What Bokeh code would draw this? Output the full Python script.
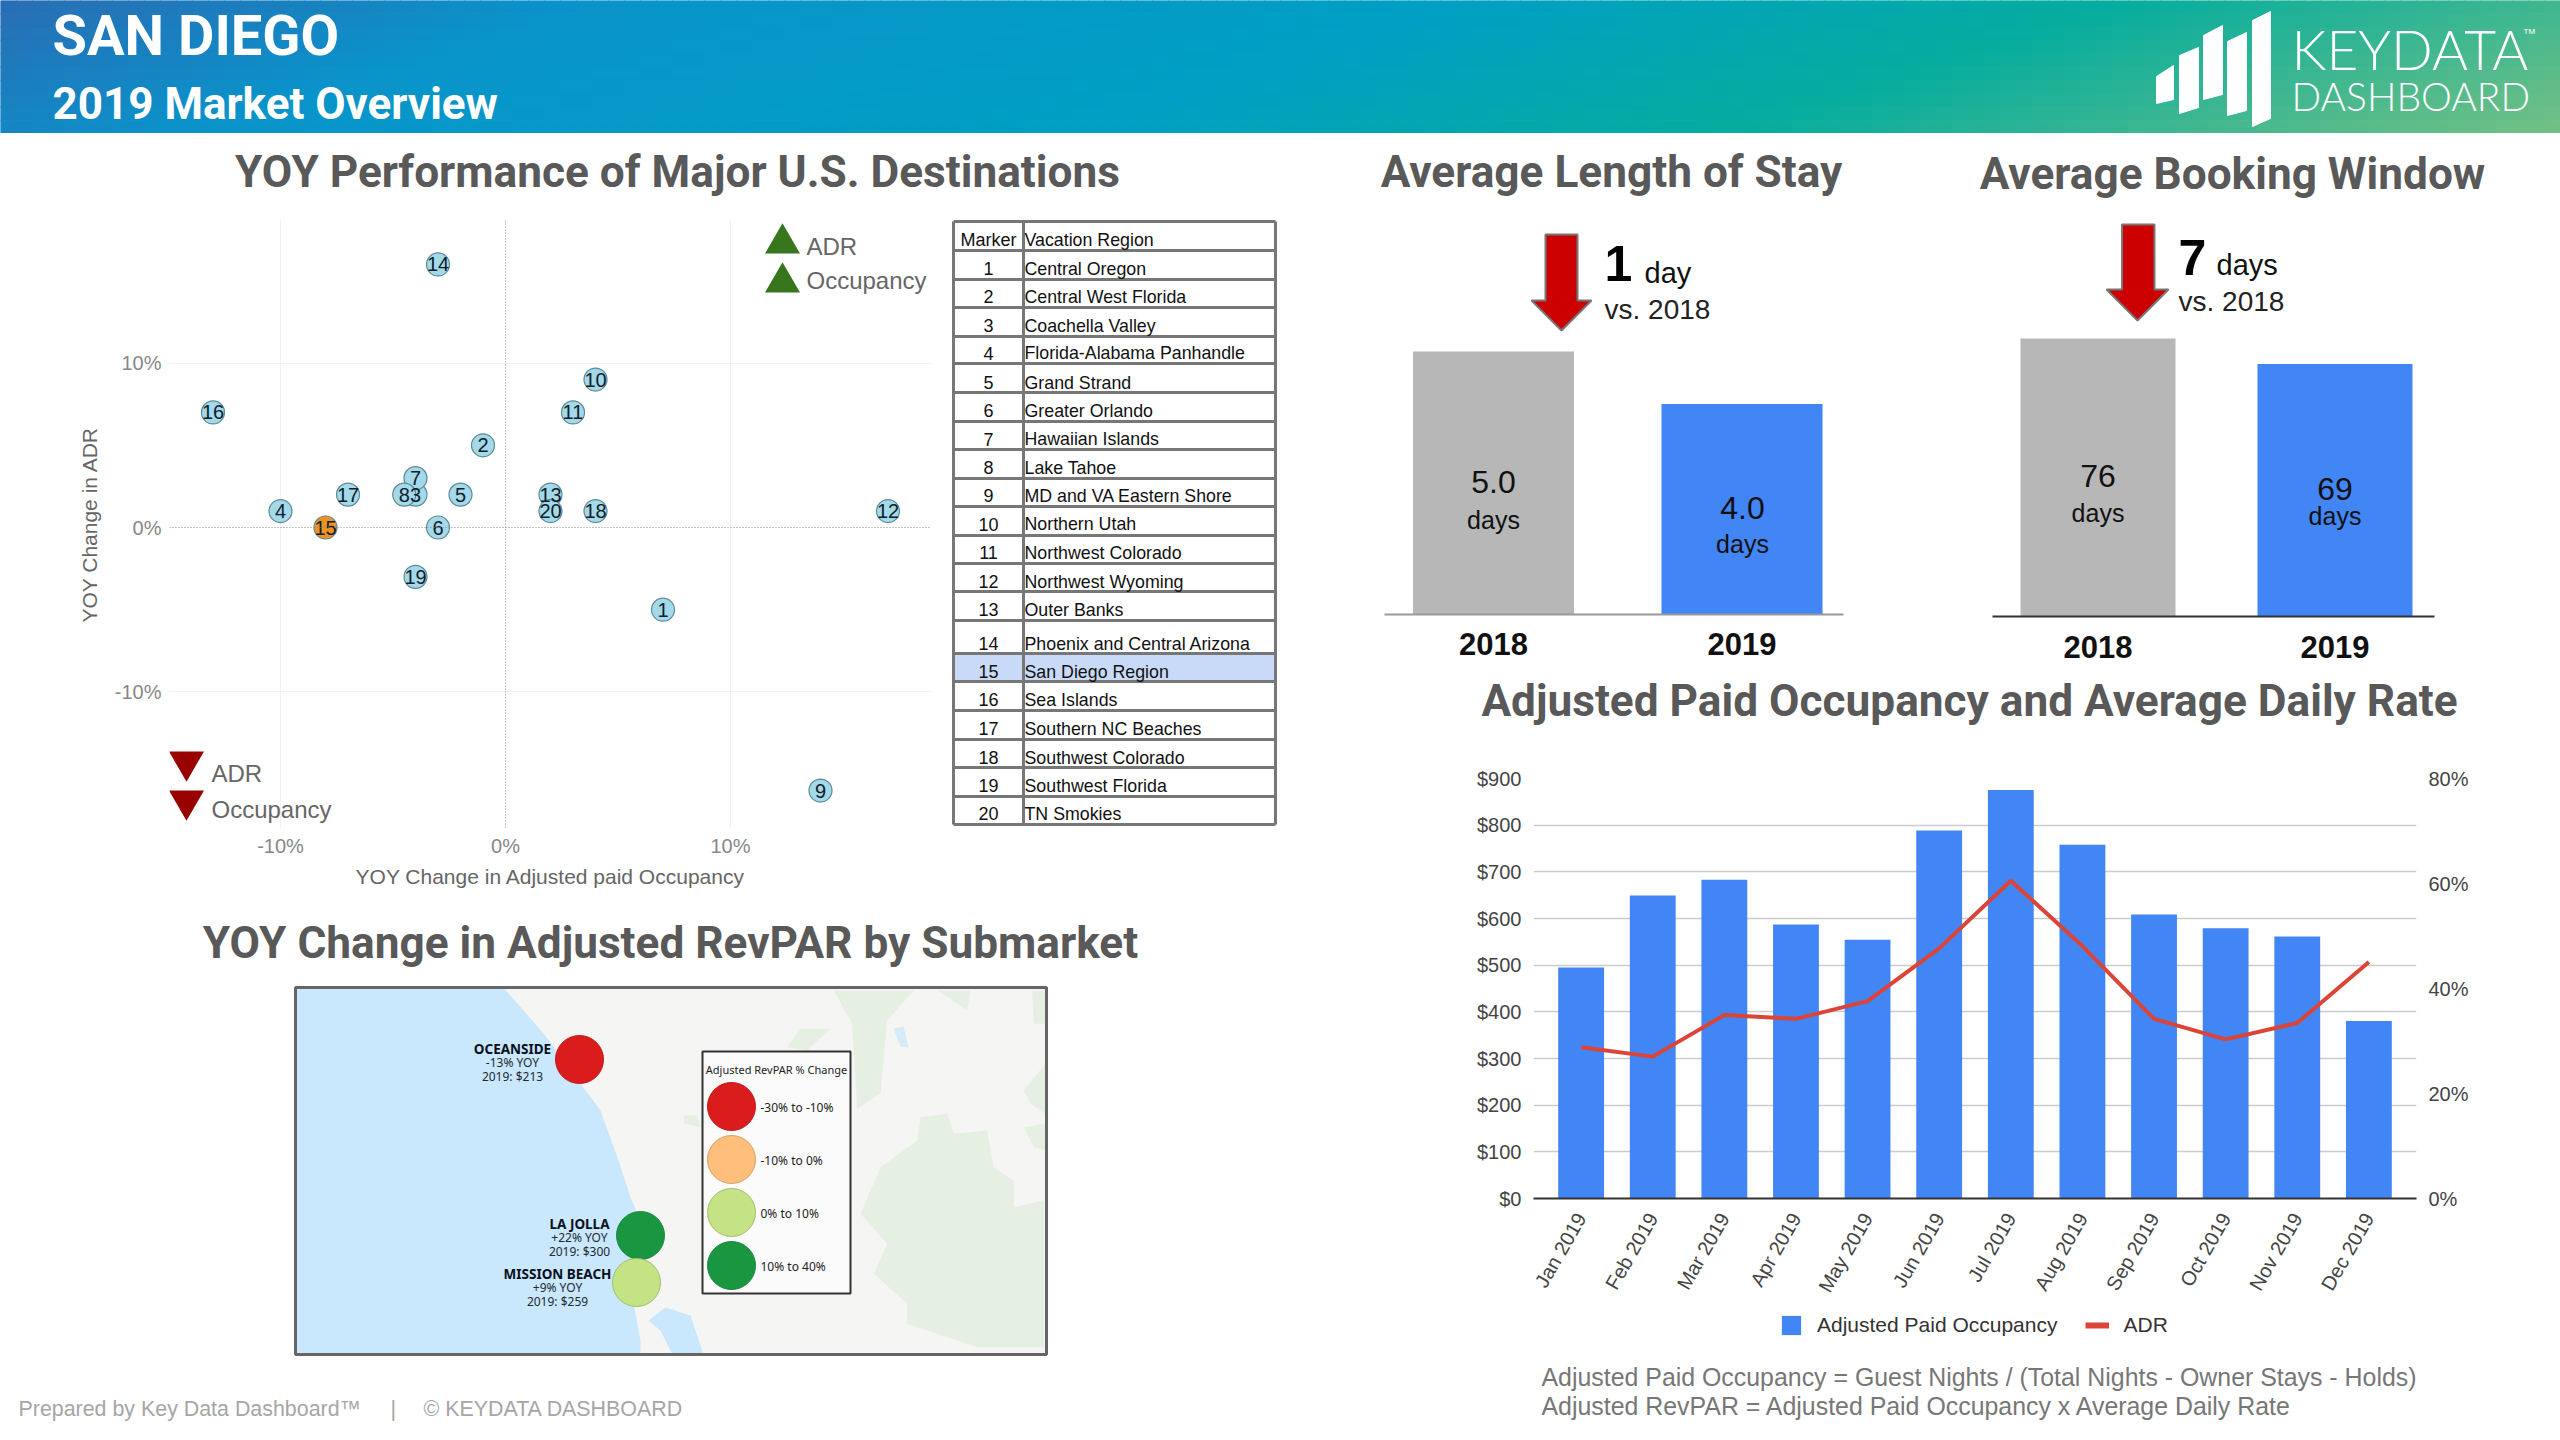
import numpy as np
from bokeh.plotting import figure
from bokeh.layouts import column, row
from bokeh.models import (Range1d, FixedTicker, PrintfTickFormatter, LinearAxis, FactorRange,
                          Span, Legend, LegendItem)
from bokeh.core.properties import value
from bokeh.embed import file_html
from bokeh.resources import INLINE

# ---------- data ----------
marker_ids = list(range(1, 21))
regions = ["Central Oregon", "Central West Florida", "Coachella Valley", "Florida-Alabama Panhandle",
           "Grand Strand", "Greater Orlando", "Hawaiian Islands", "Lake Tahoe", "MD and VA Eastern Shore",
           "Northern Utah", "Northwest Colorado", "Northwest Wyoming", "Outer Banks",
           "Phoenix and Central Arizona", "San Diego Region", "Sea Islands", "Southern NC Beaches",
           "Southwest Colorado", "Southwest Florida", "TN Smokies"]
occ_change = [7, -1, -4, -10, -2, -3, -4, -4.5, 14, 4, 3, 17, 2, -3, -8, -13, -7, 4, -4, 2]
adr_change = [-5, 5, 2, 1, 2, 0, 3, 2, -16, 9, 7, 1, 2, 16, 0, 7, 2, 1, -3, 1]

years = [2018, 2019]
length_of_stay = [5.0, 4.0]
booking_window = [76, 69]

months = ["Jan 2019", "Feb 2019", "Mar 2019", "Apr 2019", "May 2019", "Jun 2019",
          "Jul 2019", "Aug 2019", "Sep 2019", "Oct 2019", "Nov 2019", "Dec 2019"]
occupancy = [44.0, 57.7, 60.7, 52.2, 49.3, 70.1, 77.8, 67.4, 54.1, 51.5, 49.9, 33.8]
adr = [324, 304, 393, 385, 423, 536, 681, 541, 385, 341, 376, 507]

submarkets = ["OCEANSIDE", "LA JOLLA", "MISSION BEACH"]
submarket_yoy = ["-13% YOY", "+22% YOY", "+9% YOY"]
submarket_2019 = ["2019: $213", "2019: $300", "2019: $259"]
legend_bands = ["-30% to -10%", "-10% to 0%", "0% to 10%", "10% to 40%"]

# ---------- styling ----------
HEAD = "Roboto"
ARIAL = "Liberation Sans"
LIGHT = "Lato Light, Lato"
HEAD_GREY = "#595959"
RED, ORANGE, LIME, GREEN = "#da1c1c", "#fdbf7b", "#c4e385", "#1a9641"
TITLE_PX = 44.2


def canvas(x0, y0, x1, y1):
    """A bare figure whose data coordinates equal page pixels."""
    p = figure(width=x1 - x0, height=y1 - y0, x_range=Range1d(x0, x1), y_range=Range1d(y1, y0),
               x_axis_location=None, y_axis_location=None, tools="", toolbar_location=None,
               output_backend="svg", min_border=0, outline_line_color=None, background_fill_color="white",
               border_fill_color="white", frame_align=False)
    p.grid.visible = False
    return p


def put(p, x, y, s, size, color="#000000", font=ARIAL, style="normal", align="left", base="middle", angle=0):
    p.text(x=[x], y=[y], text=[s], text_font=value(font), text_font_size=f"{size}px", text_color=color,
           text_font_style=style, text_align=align, text_baseline=base, angle=angle)


# ---------- header ----------
hdr = canvas(0, 0, 2560, 133)
cw, ch = 16, 133 / 10
gx, gy = np.meshgrid(np.arange(0, 2560, cw), np.arange(10) * ch)
t = ((gx + cw / 2) + 3 * (gy + ch / 2)) / (2560 + 3 * 133)
stops = [0, .2, .5, .72, 1]
cols = np.array([[0x2a, 0x6d, 0xb5], [0x0a, 0x94, 0xcb], [0x00, 0xa0, 0xc4], [0x06, 0xad, 0x9f], [0x74, 0xc1, 0x84]])
rgb = np.stack([np.interp(t, stops, cols[:, i]) for i in range(3)], axis=-1).astype(int)
hexes = ["#%02x%02x%02x" % tuple(c) for c in rgb.reshape(-1, 3)]
hdr.quad(left=gx.ravel(), right=gx.ravel() + cw, top=gy.ravel(), bottom=gy.ravel() + ch,
         fill_color=hexes, line_color=hexes, line_width=1)
put(hdr, 52, 35, "SAN DIEGO", 56, "white", HEAD, "bold")
put(hdr, 52, 103, "2019 Market Overview", 44, "white", HEAD, "bold")
logo_x = [(2156, 2173), (2179, 2198), (2203, 2222), (2227, 2246), (2252, 2270)]
logo_t = [(76, 65), (55, 47), (35, 25), (41, 32), (20, 11)]
logo_b = [(103, 99), (113, 107), (99, 94), (115, 110), (126, 118)]
hdr.patches(xs=[[a, b, b, a] for a, b in logo_x],
            ys=[[t0, t1, b1, b0] for (t0, t1), (b0, b1) in zip(logo_t, logo_b)],
            fill_color="white", line_color="white", line_width=1, line_join="round")
put(hdr, 2291, 48, "KEYDATA", 55, "white", LIGHT)
put(hdr, 2291, 95, "DASHBOARD", 39, "white", LIGHT)
put(hdr, 2523, 31, "TM", 8, "white", ARIAL)

# ---------- scatter ----------
title_left = canvas(0, 133, 1300, 215)
put(title_left, 677, 171, "YOY Performance of Major U.S. Destinations", TITLE_PX, HEAD_GREY, HEAD, "bold", "center")

XPX, X0 = 22.5, 505.0
YPX, Y0 = 16.44, 527.0
sc = figure(width=945, height=685, x_range=Range1d((169 - X0) / XPX, (931 - X0) / XPX),
            y_range=Range1d((Y0 - 828) / YPX, (Y0 - 220) / YPX),
            tools="", toolbar_location=None, output_backend="svg", outline_line_color=None, frame_align=False,
            min_border_left=169, min_border_right=14, min_border_top=5, min_border_bottom=72)
ticks = [-10, 0, 10]
for ax, lbl in ((sc.xaxis, "YOY Change in Adjusted paid Occupancy"), (sc.yaxis, "YOY Change in ADR")):
    ax.ticker = FixedTicker(ticks=ticks)
    ax.formatter = PrintfTickFormatter(format="%d%%")
    ax.axis_line_color = None
    ax.major_tick_line_color = None
    ax.minor_tick_line_color = None
    ax.major_label_text_color = "#888888"
    ax.major_label_text_font = ARIAL
    ax.major_label_text_font_size = "20px"
    ax.major_label_standoff = 0
    ax.axis_label = lbl
    ax.axis_label_text_color = "#666666"
    ax.axis_label_text_font = ARIAL
    ax.axis_label_text_font_style = "normal"
    ax.axis_label_text_font_size = "21px"
    ax.axis_label_standoff = 5
sc.yaxis.major_label_standoff = 2
sc.yaxis.axis_label_standoff = 11
sc.xgrid.ticker = FixedTicker(ticks=[-15, -10, 10])
sc.ygrid.ticker = FixedTicker(ticks=[-10, 10])
sc.xgrid.grid_line_color = "#f1f1f1"
sc.ygrid.grid_line_color = "#f1f1f1"
sc.add_layout(Span(location=0, dimension="height", line_color="#888888", line_dash="1 2", line_width=1))
sc.add_layout(Span(location=0, dimension="width", line_color="#888888", line_dash="1 2", line_width=1))
fills = ["#ee9322" if r == "San Diego Region" else "#a3d9e8" for r in regions]
sc.scatter(occ_change, adr_change, size=23, fill_color=fills, line_color="#5d8a96", line_width=1.2)
sc.text(occ_change, adr_change, text=[str(i) for i in marker_ids], text_font=value(ARIAL),
        text_font_size="20px", text_align="center", text_baseline="middle", text_color="#10202a")


def dx(px):
    return (px - X0) / XPX


def dy(px):
    return (Y0 - px) / YPX


sc.scatter([dx(782)] * 2, [dy(243), dy(282)], marker="triangle", size=35, fill_color="#38761d", line_color=None)
sc.scatter([dx(186)] * 2, [dy(761), dy(800)], marker="inverted_triangle", size=35, fill_color="#990000", line_color=None)
for px_x, px_y, s in ((806, 246, "ADR"), (806, 280, "Occupancy"), (211, 773, "ADR"), (211, 809, "Occupancy")):
    put(sc, dx(px_x), dy(px_y), s, 24, "#666666")

# ---------- table ----------
tb = canvas(945, 215, 1300, 900)
row_lines = [221, 250, 279, 307, 336, 363, 392, 421, 449, 478, 506, 535, 563, 591, 620, 653, 681, 710, 739, 767, 796, 824]
text_y = [239, 268, 296, 325, 352.5, 382, 410, 438.6, 467, 495, 523.5, 552, 581, 609, 643, 671, 699, 728, 757, 785, 813]
hi = regions.index("San Diego Region") + 1
tb.quad(left=953, right=1275, top=row_lines[hi], bottom=row_lines[hi + 1], fill_color="#c9daf8", line_color=None)
tb.segment(x0=[953] * len(row_lines), x1=[1275] * len(row_lines), y0=row_lines, y1=row_lines,
           line_color="#777777", line_width=3)
tb.segment(x0=[953, 1023, 1275], x1=[953, 1023, 1275], y0=[221] * 3, y1=[824] * 3, line_color="#777777", line_width=3)
put(tb, 988, text_y[0], "Marker", 18, "#111111", align="center")
put(tb, 1024, text_y[0], "Vacation Region", 17.8, "#111111")
tb.text(x=[988] * 20, y=text_y[1:], text=[str(i) for i in marker_ids], text_font=value(ARIAL), text_font_size="18px",
        text_align="center", text_baseline="middle", text_color="#111111")
tb.text(x=[1024] * 20, y=text_y[1:], text=regions, text_font=value(ARIAL), text_font_size="17.8px",
        text_align="left", text_baseline="middle", text_color="#111111")

# ---------- map ----------
mp = canvas(0, 900, 1300, 1440)
put(mp, 670, 942, "YOY Change in Adjusted RevPAR by Submarket", TITLE_PX, HEAD_GREY, HEAD, "bold", "center")
mp.quad(left=295, right=1046, top=987, bottom=1354, fill_color="#f5f5f3", line_color=None)
green_crops = [
    [(600, 700), (660, 560), (770, 480), (780, 410), (860, 400), (880, 460), (980, 450), (1000, 560), (1060, 600),
     (1060, 680), (1150, 660), (1150, 1100), (950, 1100), (740, 1030), (740, 970), (640, 880), (680, 790)],
    [(520, 30), (760, 30), (680, 120), (660, 340), (590, 385), (575, 130)],
    [(830, 30), (930, 30), (920, 90)],
    [(1115, 30), (1155, 30), (1155, 130), (1120, 130)],
    [(1090, 330), (1155, 250), (1155, 400), (1110, 370)],
    [(1090, 440), (1155, 430), (1155, 510), (1120, 500)],
    [(380, 200), (420, 145), (510, 145), (440, 210)],
    [(70, 405), (110, 405), (120, 440), (70, 430)],
]
mp.patches(xs=[[660 + a / 3 for a, _ in g] for g in green_crops], ys=[[980 + b / 3 for _, b in g] for g in green_crops],
           fill_color="#e6f0e2", line_color=None)
sea_x = [295, 503, 543, 580, 600, 617, 630, 637, 632, 630, 635, 640, 640, 295]
sea_y = [987, 987, 1033, 1083, 1110, 1157, 1197, 1213, 1260, 1290, 1313, 1340, 1354, 1354]
mp.patch(sea_x, sea_y, fill_color="#c9e7fd", line_color=None)
mp.patch([648, 665, 690, 703, 672, 660], [1320, 1307, 1315, 1354, 1354, 1330], fill_color="#c9e7fd", line_color=None)
mp.patch([893, 903, 908, 900], [1028, 1026, 1047, 1046], fill_color="#d5ebf7", line_color=None)
mp.quad(left=295, right=1046, top=987, bottom=1354, fill_color=None, line_color="#666666", line_width=3)
mp.quad(left=702, right=850, top=1051, bottom=1293, fill_color="#fbfbfb", line_color="#333333", line_width=2)
mp.scatter([579, 640, 636], [1059, 1235, 1282], size=48, fill_color=[RED, GREEN, LIME],
           line_color=["#c41818", "#178a3b", "#a3bd6e"], line_width=1)
mp.scatter([731] * 4, [1106, 1159, 1212, 1265], size=48, fill_color=[RED, ORANGE, LIME, GREEN],
           line_color=["#c41818", "#d9a060", "#a3bd6e", "#178a3b"], line_width=1)
for name, yoy, val, cx, cy in zip(submarkets, submarket_yoy, submarket_2019, [512, 579, 557], [1048, 1223, 1273]):
    put(mp, cx, cy, name, 13.5, "#0a0f1c", "Noto Sans", "bold", "center")
    put(mp, cx, cy + 14, yoy, 12, "#222a33", "Noto Sans", align="center")
    put(mp, cx, cy + 28, val, 12, "#222a33", "Noto Sans", align="center")
put(mp, 776, 1069, "Adjusted RevPAR % Change", 11, "#222222", "Noto Sans", align="center")
for band, cy in zip(legend_bands, [1106, 1159, 1212, 1265]):
    put(mp, 760, cy + 1, band, 12, "#222222", "Noto Sans")
put(mp, 18, 1408, "Prepared by Key Data Dashboard\u2122", 21.4, "#a6a6a6")
put(mp, 390, 1408, "|", 21.4, "#a6a6a6")
put(mp, 423, 1408, "\u00a9 KEYDATA DASHBOARD", 21.4, "#a6a6a6")


# ---------- small bar charts ----------
def bar_chart(w, h, xr, yr, vals, bw, borders, axis_color, standoff):
    left, right, top, bottom = borders
    p = figure(width=w, height=h, x_range=Range1d(*xr), y_range=Range1d(*yr), tools="", toolbar_location=None,
               output_backend="svg", outline_line_color=None, y_axis_location=None, frame_align=False,
               min_border_left=left, min_border_right=right, min_border_top=top, min_border_bottom=bottom)
    p.grid.visible = False
    p.vbar(x=years, top=vals, width=bw, bottom=0, fill_color=["#b7b7b7", "#4285f4"], line_color=None)
    ax = p.xaxis[0]
    ax.ticker = FixedTicker(ticks=years)
    ax.formatter = PrintfTickFormatter(format="%d")
    ax.axis_line_color = axis_color
    ax.axis_line_width = 2
    ax.major_tick_line_color = None
    ax.minor_tick_line_color = None
    ax.major_label_text_font = ARIAL
    ax.major_label_text_font_style = "bold"
    ax.major_label_text_font_size = "31px"
    ax.major_label_text_color = "#111111"
    ax.major_label_standoff = standoff
    return p


def mapper(x0, base_px, xscale, yscale):
    return (lambda px: 2018 + (px - x0) / xscale), (lambda py: (base_px - py) / yscale)


# length of stay
ttl = canvas(1300, 133, 2560, 214)
put(ttl, 1611, 171, "Average Length of Stay", TITLE_PX, HEAD_GREY, HEAD, "bold", "center")
put(ttl, 2232, 173, "Average Booking Window", TITLE_PX, HEAD_GREY, HEAD, "bold", "center")

sp1 = 248.5
yv1 = 52.6
los = bar_chart(630, 458, (2018 + (1384 - 1493) / sp1, 2018 + (1843 - 1493) / sp1), (0, (614 - 214) / yv1),
                length_of_stay, 0.648, (84, 87, 0, 58), "#999999", 12)
fx, fy = mapper(1493, 614, sp1, yv1)
for px, py, s, size in ((1493, 481, f"{length_of_stay[0]:.1f}", 32), (1493, 519, "days", 25),
                        (1742, 507, f"{length_of_stay[1]:.1f}", 32), (1742, 543, "days", 25)):
    put(los, fx(px), fy(py), s, size, "#111111", align="center")
los.patch([fx(v) for v in (1545, 1577, 1577, 1591, 1561, 1531, 1545)],
          [fy(v) for v in (234, 234, 300, 300, 330, 300, 300)],
          fill_color="#cc0000", line_color="#777777", line_width=2)
put(los, fx(1604), fy(263), "1", 50, "#000000", style="bold")
put(los, fx(1644), fy(272), "day", 29, "#111111")
put(los, fx(1604), fy(309), "vs. 2018", 28, "#222222")

# booking window
sp2 = 237
yv2 = 278 / 76
bkg = bar_chart(630, 458, (2018 + (1992 - 2097.5) / sp2, 2018 + (2434 - 2097.5) / sp2), (0, (616 - 214) / yv2),
                booking_window, 0.654, (62, 126, 0, 56), "#333333", 13)
fx, fy = mapper(2097.5, 616, sp2, yv2)
for px, py, s, size in ((2097.5, 475, str(booking_window[0]), 32), (2097.5, 512, "days", 25),
                        (2334.5, 488, str(booking_window[1]), 32), (2334.5, 515, "days", 25)):
    put(bkg, fx(px), fy(py), s, size, "#111111", align="center")
bkg.patch([fx(v) for v in (2121.5, 2154, 2154, 2168, 2137, 2106, 2121.5)],
          [fy(v) for v in (224, 224, 289, 289, 320, 289, 289)],
          fill_color="#cc0000", line_color="#777777", line_width=2)
put(bkg, fx(2178), fy(257), "7", 50, "#000000", style="bold")
put(bkg, fx(2216), fy(264), "days", 29, "#111111")
put(bkg, fx(2178), fy(301), "vs. 2018", 28, "#222222")

# ---------- combo chart ----------
ttl2 = canvas(1300, 672, 2560, 740)
put(ttl2, 1969, 700, "Adjusted Paid Occupancy and Average Daily Rate", TITLE_PX, HEAD_GREY, HEAD, "bold", "center")

cb = figure(width=1260, height=570, x_range=FactorRange(factors=months, range_padding=0.0275),
            y_range=Range1d(0, 900), tools="", toolbar_location=None, output_backend="svg", frame_align=False,
            outline_line_color=None, min_border_left=233, min_border_right=144, min_border_top=38,
            min_border_bottom=112)
cb.extra_y_ranges = {"occ": Range1d(0, 80)}
r_ax = LinearAxis(y_range_name="occ", ticker=FixedTicker(ticks=[0, 20, 40, 60, 80]),
                  formatter=PrintfTickFormatter(format="%d%%"))
cb.add_layout(r_ax, "right")
cb.yaxis[0].ticker = FixedTicker(ticks=list(range(0, 901, 100)))
cb.yaxis[0].formatter = PrintfTickFormatter(format="$%d")
for ax in (cb.yaxis[0], r_ax):
    ax.axis_line_color = None
    ax.major_tick_line_color = None
    ax.minor_tick_line_color = None
    ax.major_label_text_font = ARIAL
    ax.major_label_text_font_size = "20px"
    ax.major_label_text_color = "#444444"
cb.yaxis[0].major_label_standoff = 6
r_ax.major_label_standoff = 6
xa = cb.xaxis[0]
xa.axis_line_color = "#333333"
xa.axis_line_width = 2
xa.major_tick_line_color = None
xa.minor_tick_line_color = None
xa.major_label_orientation = np.pi / 3
xa.major_label_text_font = ARIAL
xa.major_label_text_font_size = "20px"
xa.major_label_text_color = "#444444"
xa.major_label_standoff = 10
cb.xgrid.visible = False
cb.ygrid.grid_line_color = "#cccccc"
cb.ygrid.grid_line_width = 1.5
cb.vbar(x=months, top=occupancy, width=0.64, y_range_name="occ", fill_color="#4285f4", line_color=None)
cb.line(x=months, y=adr, line_color="#db4437", line_width=4)

notes = canvas(1300, 1310, 2560, 1440)
# the key's samples lie off this canvas: only their legend swatches show
key_bar = notes.quad(left=[0], right=[1], top=[0], bottom=[1], fill_color="#4285f4", line_color=None)
key_line = notes.line(x=[0, 1], y=[0, 0], line_color="#db4437", line_width=6)
lg = Legend(items=[LegendItem(label="Adjusted Paid Occupancy", renderers=[key_bar]),
                   LegendItem(label="ADR", renderers=[key_line])],
            orientation="horizontal", location=(479, 103), background_fill_alpha=0, border_line_color=None,
            label_text_font=ARIAL, label_text_font_size="21px", label_text_color="#333333",
            glyph_width=24, glyph_height=24, label_standoff=14, spacing=28, margin=0, padding=0)
notes.add_layout(lg, "center")
put(notes, 1541, 1376, "Adjusted Paid Occupancy = Guest Nights / (Total Nights - Owner Stays - Holds)", 24.9, "#777777")
put(notes, 1541, 1405, "Adjusted RevPAR = Adjusted Paid Occupancy x Average Daily Rate", 24.9, "#777777")

# ---------- page ----------
left_col = column(title_left, row(sc, tb), mp)
right_col = column(ttl, row(los, bkg), ttl2, cb, notes)
page = column(hdr, row(left_col, right_col))
open("out.html", "w").write(file_html(page, INLINE))
